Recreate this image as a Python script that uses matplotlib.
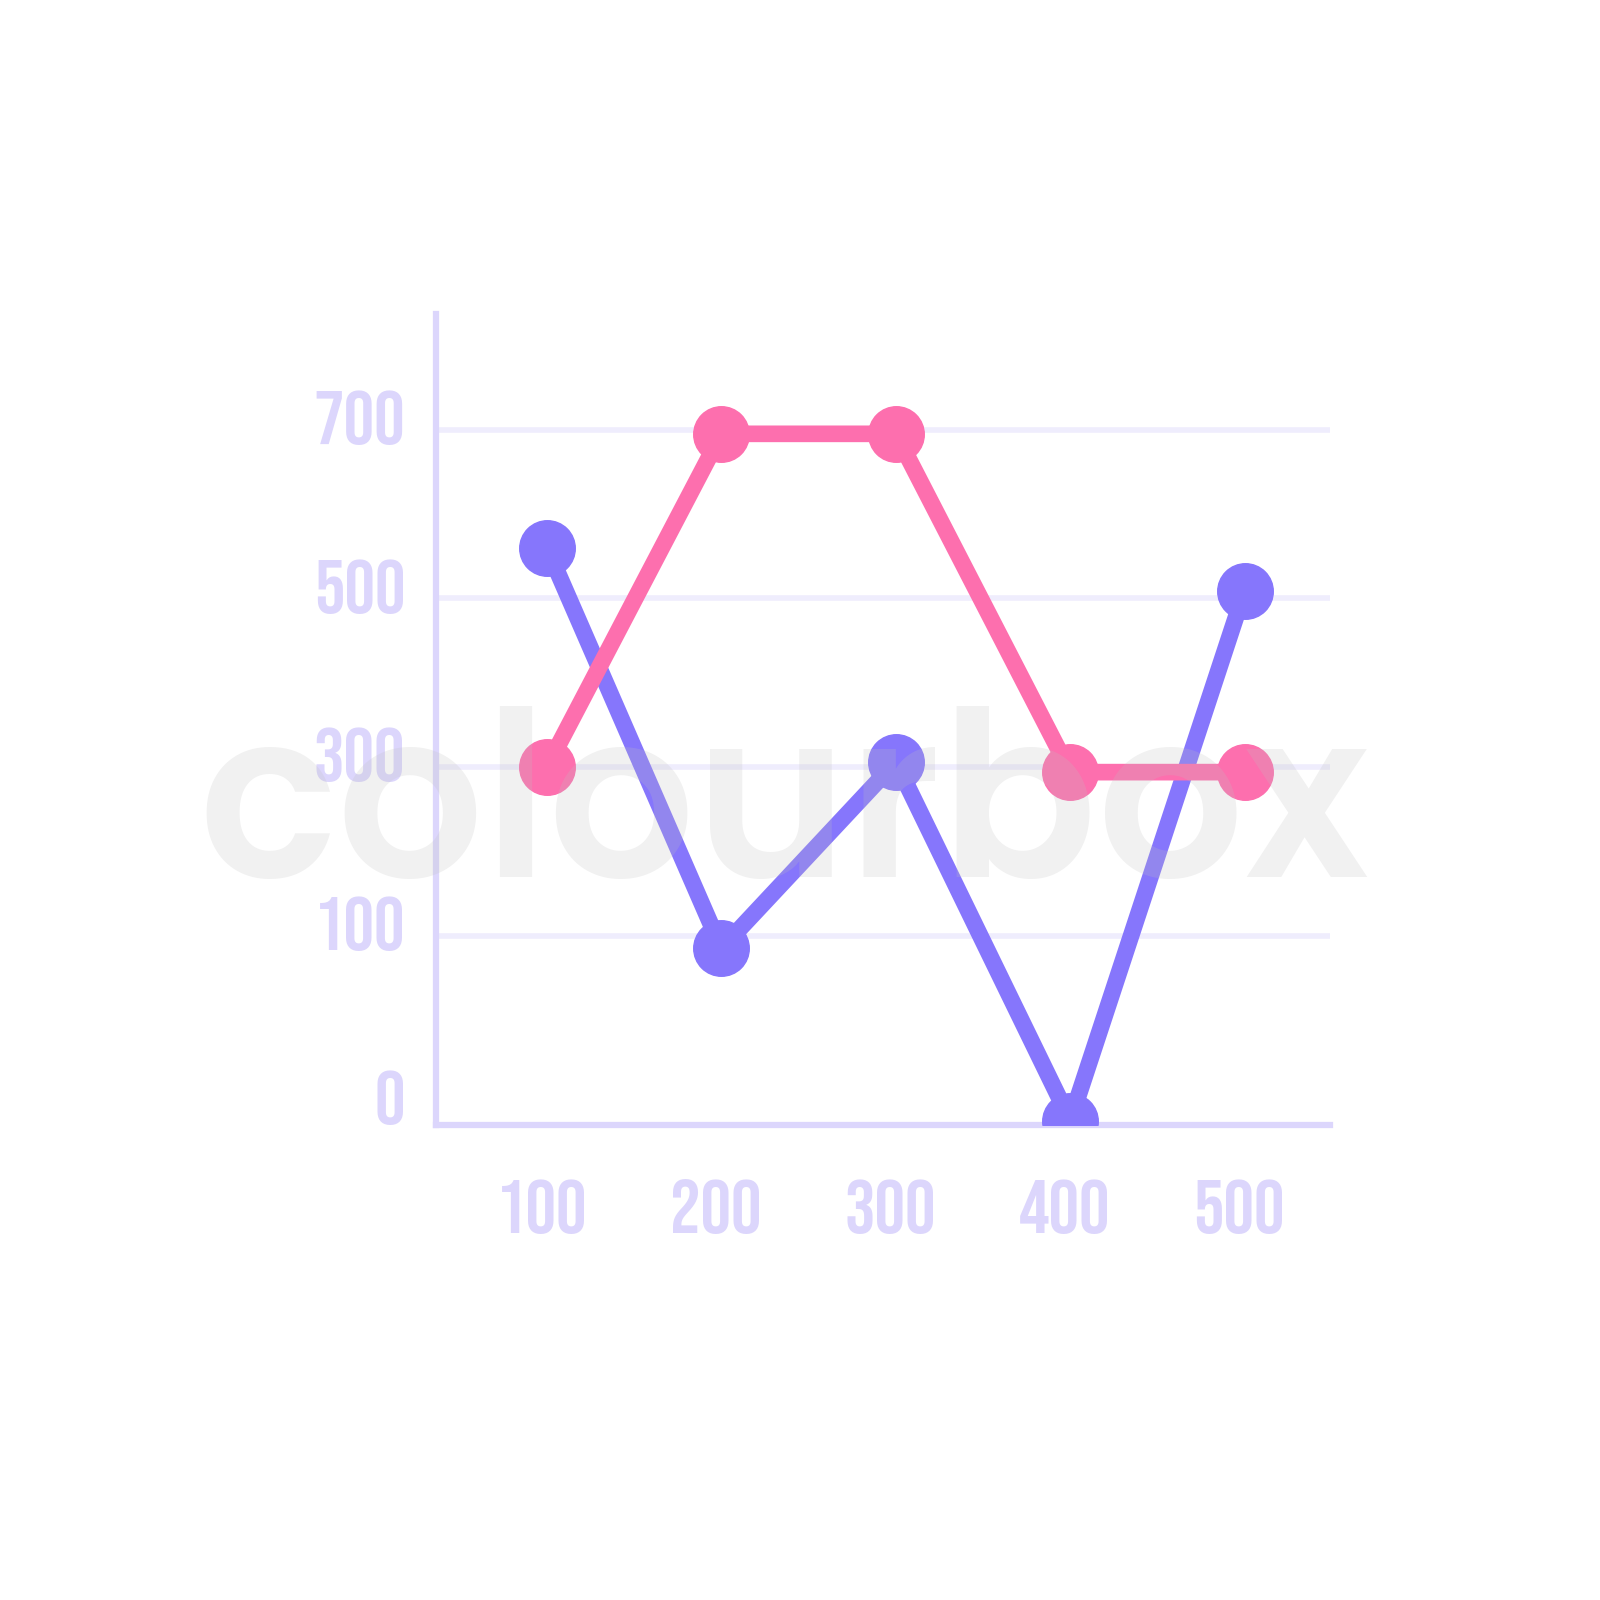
import matplotlib.pyplot as plt
from matplotlib import font_manager
from matplotlib.transforms import ScaledTranslation

x_vals = [100, 200, 300, 400, 500]
purple_vals = [560, 85, 306, -119, 509]
pink_vals = [300, 695, 695, 294, 294]

y_ticks = [-106, 100, 300, 500, 700]
y_labels = ['0', '100', '300', '500', '700']
x_labels = ['100', '200', '300', '400', '500']

purple = '#8676fc'
pink = '#fd6fae'
lav = '#dcd6fc'
grid_col = '#efedfd'

names = {f.name for f in font_manager.fontManager.ttflist}
tick_family = [f for f in ['Bebas Neue', 'League Gothic', 'DejaVu Sans'] if f in names]
wm_family = [f for f in ['Poppins', 'DejaVu Sans'] if f in names]

fig = plt.figure(figsize=(16, 16), dpi=100)
ax = fig.add_axes([0.2725, 0.297, 0.5585, 0.507])

# grid lines (the zero one is the axis itself)
for yv in y_ticks[1:]:
    ax.axhline(yv, color=grid_col, lw=4, zorder=1)

ax.plot(x_vals, purple_vals, color=purple, lw=12, marker='o', ms=40,
        solid_capstyle='round', zorder=3)
ax.plot(x_vals, pink_vals, color=pink, lw=12, marker='o', ms=40,
        solid_capstyle='round', zorder=4)

ax.set_xlim(36.4, 548.7)
ax.set_ylim(-124, 837.5)

for s in ['top', 'right']:
    ax.spines[s].set_visible(False)
for s in ['left', 'bottom']:
    ax.spines[s].set_color(lav)
    ax.spines[s].set_linewidth(4.5)

ax.set_xticks(x_vals)
ax.set_xticklabels(x_labels)
ax.set_yticks(y_ticks)
ax.set_yticklabels(y_labels)
ax.tick_params(length=0, colors=lav, labelsize=55)
ax.tick_params(axis='y', pad=22)
ax.tick_params(axis='x', pad=39)
for lab in ax.get_xticklabels() + ax.get_yticklabels():
    lab.set_family(tick_family)
for lab in ax.get_yticklabels():
    lab.set_transform(lab.get_transform() + ScaledTranslation(0, 9 / 72, fig.dpi_scale_trans))
for lab in ax.get_xticklabels():
    lab.set_transform(lab.get_transform() + ScaledTranslation(-4 / 72, 0, fig.dpi_scale_trans))

# watermark
fig.text(0.49, 0.452, 'colourbox', ha='center', va='baseline', fontsize=166,
         fontweight='semibold', family=wm_family,
         color='#c0c0c0', alpha=0.22, zorder=10)

fig.savefig('out.png', dpi=100, facecolor='white')
